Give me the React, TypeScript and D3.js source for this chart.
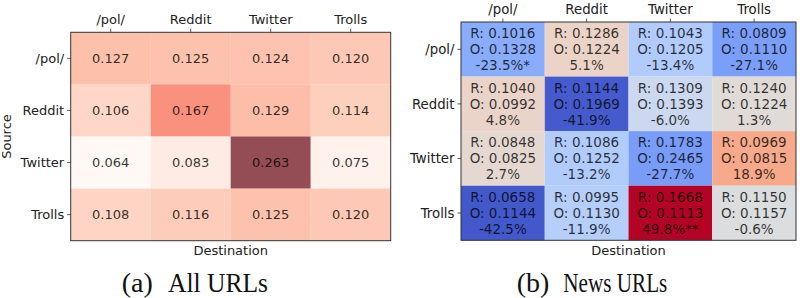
import React from "react";
import * as d3 from "d3";

const categories = ["/pol/", "Reddit", "Twitter", "Trolls"];

// (a) All URLs: rows = source, cols = destination
const allUrls: number[][] = [
  [0.127, 0.125, 0.124, 0.120],
  [0.106, 0.167, 0.129, 0.114],
  [0.064, 0.083, 0.263, 0.075],
  [0.108, 0.116, 0.125, 0.120],
];

// (b) News URLs
const newsR: number[][] = [
  [0.1016, 0.1286, 0.1043, 0.0809],
  [0.1040, 0.1144, 0.1309, 0.1240],
  [0.0848, 0.1086, 0.1783, 0.0969],
  [0.0658, 0.0995, 0.1668, 0.1150],
];
const newsO: number[][] = [
  [0.1328, 0.1224, 0.1205, 0.1110],
  [0.0992, 0.1969, 0.1393, 0.1224],
  [0.0825, 0.1252, 0.2465, 0.0815],
  [0.1144, 0.1130, 0.1113, 0.1157],
];
const newsPct: number[][] = [
  [-23.5, 5.1, -13.4, -27.1],
  [4.8, -41.9, -6.0, 1.3],
  [2.7, -13.2, -27.7, 18.9],
  [-42.5, -11.9, 49.8, -0.6],
];
const newsSig: string[][] = [
  ["*", "", "", ""],
  ["", "", "", ""],
  ["", "", "", ""],
  ["", "", "**", ""],
];

const captions = ["(a)", "(b)"];
const captionTitles = ["All URLs", "News URLs"];

// matplotlib coolwarm stops
const coolwarmStops: [number, number, number][] = [
  [59, 76, 192], [68, 90, 204], [77, 104, 215], [87, 117, 225], [98, 130, 234],
  [108, 142, 241], [119, 154, 247], [130, 165, 251], [141, 176, 254], [152, 185, 255],
  [163, 194, 255], [174, 201, 253], [184, 208, 249], [194, 213, 244], [204, 217, 238],
  [213, 219, 230], [221, 221, 221], [229, 216, 209], [236, 211, 197], [241, 204, 185],
  [245, 196, 173], [247, 187, 160], [247, 177, 148], [247, 166, 135], [244, 154, 123],
  [241, 141, 111], [236, 127, 99], [229, 112, 88], [222, 96, 77], [213, 80, 66],
  [203, 62, 56], [192, 40, 47], [180, 4, 38],
];
const coolwarm = d3
  .scaleLinear<string>()
  .domain(coolwarmStops.map((_, i) => i / (coolwarmStops.length - 1)))
  .range(coolwarmStops.map(([r, g, b]) => `rgb(${r},${g},${b})`))
  .clamp(true);

const FONT = "DejaVu Sans, sans-serif";
const SERIF = "Liberation Serif, DejaVu Serif, serif";

export default function App() {
  // Left panel geometry
  const L = { x0: 70.7, x1: 390.7, y0: 32.3, y1: 240.7 };
  const R = { x0: 461, x1: 796, y0: 22, y1: 240.3 };

  const lx = d3.scaleBand<string>().domain(categories).range([L.x0, L.x1]);
  const ly = d3.scaleBand<string>().domain(categories).range([L.y0, L.y1]);
  const rx = d3.scaleBand<string>().domain(categories).range([R.x0, R.x1]);
  const ry = d3.scaleBand<string>().domain(categories).range([R.y0, R.y1]);

  const flat = allUrls.flat();
  const reds = d3
    .scaleLinear()
    .domain([d3.min(flat) as number, d3.max(flat) as number])
    .range([0, 1]);

  const pctScale = d3.scaleLinear().domain([-45, 45]).range([0, 1]).clamp(true);

  const tick = 3.5;
  const textFill = "#000";

  const renderAxes = (
    xs: d3.ScaleBand<string>,
    ys: d3.ScaleBand<string>,
    G: { x0: number; x1: number; y0: number; y1: number },
    fs: number
  ) => (
    <g>
      <rect
        x={G.x0}
        y={G.y0}
        width={G.x1 - G.x0}
        height={G.y1 - G.y0}
        fill="none"
        stroke="#333"
        strokeWidth={1}
      />
      {categories.map((c) => {
        const cx = (xs(c) as number) + xs.bandwidth() / 2;
        return (
          <g key={"x" + c}>
            <line x1={cx} x2={cx} y1={G.y0} y2={G.y0 - tick} stroke="#333" strokeWidth={0.8} />
            <text
              x={cx}
              y={G.y0 - tick - 3.5 - 1}
              textAnchor="middle"
              fontFamily={FONT}
              fontSize={fs}
              fill="#222"
            >
              {c}
            </text>
          </g>
        );
      })}
      {categories.map((c) => {
        const cy = (ys(c) as number) + ys.bandwidth() / 2;
        return (
          <g key={"y" + c}>
            <line x1={G.x0} x2={G.x0 - tick} y1={cy} y2={cy} stroke="#333" strokeWidth={0.8} />
            <text
              x={G.x0 - tick - 3}
              y={cy + fs * 0.36}
              textAnchor="end"
              fontFamily={FONT}
              fontSize={fs}
              fill="#222"
            >
              {c}
            </text>
          </g>
        );
      })}
      <text
        x={(G.x0 + G.x1) / 2}
        y={255}
        textAnchor="middle"
        fontFamily={FONT}
        fontSize={13}
        fill="#222"
      >
        Destination
      </text>
    </g>
  );

  return (
    <svg
      width={800}
      height={298}
      style={{ position: "fixed", left: 0, top: 0, background: "#fff" }}
    >
      <rect x={0} y={0} width={800} height={298} fill="#fff" />

      {/* Left heatmap */}
      <g>
        {allUrls.map((row, i) =>
          row.map((v, j) => (
            <rect
              key={`l${i}-${j}`}
              x={lx(categories[j]) as number}
              y={ly(categories[i]) as number}
              width={lx.bandwidth()}
              height={ly.bandwidth()}
              fill={d3.interpolateReds(reds(v))}
              fillOpacity={0.7}
            />
          ))
        )}
        {allUrls.map((row, i) =>
          row.map((v, j) => (
            <text
              key={`lt${i}-${j}`}
              x={(lx(categories[j]) as number) + lx.bandwidth() / 2}
              y={(ly(categories[i]) as number) + ly.bandwidth() / 2 + 4.7}
              textAnchor="middle"
              fontFamily={FONT}
              fontSize={13}
              fill={textFill}
              fillOpacity={0.8}
            >
              {v.toFixed(3)}
            </text>
          ))
        )}
        {renderAxes(lx, ly, L, 13)}
        <text
          transform={`translate(10.5,${(L.y0 + L.y1) / 2}) rotate(-90)`}
          textAnchor="middle"
          fontFamily={FONT}
          fontSize={13}
          fill="#222"
        >
          Source
        </text>
      </g>

      {/* Right heatmap */}
      <g>
        {newsPct.map((row, i) =>
          row.map((v, j) => (
            <rect
              key={`r${i}-${j}`}
              x={rx(categories[j]) as number}
              y={ry(categories[i]) as number}
              width={rx.bandwidth()}
              height={ry.bandwidth()}
              fill={coolwarm(pctScale(v))}
            />
          ))
        )}
        {newsPct.map((row, i) =>
          row.map((v, j) => {
            const cx = (rx(categories[j]) as number) + rx.bandwidth() / 2;
            const cy = (ry(categories[i]) as number) + ry.bandwidth() / 2;
            const lines = [
              `R: ${newsR[i][j].toFixed(4)}`,
              `O: ${newsO[i][j].toFixed(4)}`,
              `${v.toFixed(1)}%${newsSig[i][j]}`,
            ];
            return (
              <g key={`rt${i}-${j}`}>
                {lines.map((t, k) => (
                  <text
                    key={k}
                    x={cx}
                    y={cy + (k - 1) * 16 + 4.8}
                    textAnchor="middle"
                    fontFamily={FONT}
                    fontSize={13.5}
                    fill={textFill}
                    fillOpacity={0.78}
                  >
                    {t}
                  </text>
                ))}
              </g>
            );
          })
        )}
        {renderAxes(rx, ry, R, 13.3)}
      </g>

      {/* Captions */}
      <text x={121.7} y={291.5} fontFamily={SERIF} fontSize={28} fill="#111">
        {captions[0]}
      </text>
      <text
        x={168}
        y={291.5}
        fontFamily={SERIF}
        fontSize={28}
        fill="#111"
        textLength={100}
        lengthAdjust="spacingAndGlyphs"
      >
        {captionTitles[0]}
      </text>
      <text x={516.7} y={291.5} fontFamily={SERIF} fontSize={28} fill="#111">
        {captions[1]}
      </text>
      <text
        x={563.3}
        y={291.5}
        fontFamily={SERIF}
        fontSize={28}
        fill="#111"
        textLength={104}
        lengthAdjust="spacingAndGlyphs"
      >
        {captionTitles[1]}
      </text>
    </svg>
  );
}
